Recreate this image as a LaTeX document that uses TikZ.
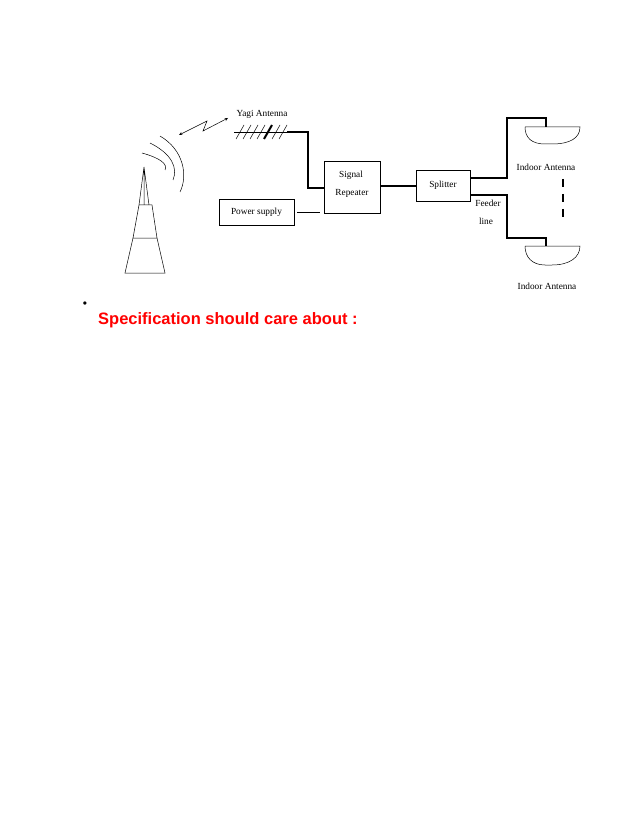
\documentclass[tikz,border=0pt]{standalone}
\usepackage{fontspec}
\setmainfont{Liberation Serif}
\newfontfamily\arialb{Liberation Sans}
\begin{document}
\begin{tikzpicture}[x=1pt,y=-1pt,
  box/.style={draw,line width=0.5pt,inner sep=0pt},
  lbl/.style={font=\fontsize{9.3}{10}\selectfont,inner sep=0pt},
  feed/.style={line width=1.8pt},
  thin/.style={line width=0.5pt}]
\useasboundingbox (0,0) rectangle (638,826);
% tower
\draw[thin] (144,167) -- (139,205) (144,167) -- (149,205) (144,167) -- (144,205);
\draw[thin] (139,205) -- (152,205) -- (157,238) -- (133,238) -- cycle;
\draw[thin] (133,238) -- (125,273) -- (165,273) -- (157,238);
% waves
\draw[thin] (160,136) .. controls (184,150) and (188,176) .. (180,192);
\draw[thin] (150,143) .. controls (172,154) and (178,168) .. (173,180);
\draw[thin] (142,153) .. controls (160,158) and (168,164) .. (165,170);
% lightning
\draw[thin,<->,>=stealth] (179,135) -- (207,121) -- (203,131) -- (228,118);
% yagi
\node[lbl] (yl) at (262,114) {Yagi Antenna};
\coordinate (y0) at (234,132);
\coordinate (y1) at (287,132);
\draw[thin] (y0) -- (y1);
\foreach \x in {236,243,250,257,272,279} \draw[thin] (\x,139) -- (\x+8,125);
\draw[line width=2pt] (264,139) -- (272,125);
% boxes
\node[box,minimum width=56pt,minimum height=52pt] (rep) at (352,187) {};
\node[lbl] at (351,175) {Signal};
\node[lbl] at (352,193) {Repeater};
\node[box,minimum width=75pt,minimum height=26pt,lbl,draw] (ps) at (256.5,212) {Power supply};
\node[box,minimum width=54pt,minimum height=31pt,lbl,draw] (sp) at (443,185.5) {Splitter};
\draw[feed] (y1) -- (308,132) -- (308,188) -- (rep.west |- 0,188);
\draw[thin] (297,212) -- (320,212);
\draw[feed] (rep.east |- 0,186) -- (sp.west |- 0,186);
% indoor antennas
\draw[feed] (sp.east |- 0,178) -- (507,178) -- (507,118) -- (546,118) -- (546,127);
\draw[feed] (sp.east |- 0,195) -- (507,195) -- (507,238) -- (546,238) -- (546,246);
\draw[thin] (525,127) -- (580,127) .. controls (580,138) and (570,144) .. (552,144) -- (545,144) .. controls (532,144) and (525,138) .. (525,127);
\draw[thin] (525,246) -- (580,246) .. controls (580,257) and (570,265) .. (552,265) -- (545,265) .. controls (532,265) and (525,257) .. (525,246);
\node[lbl] (a1) at (546,167) {Indoor Antenna};
\node[lbl] (a2) at (547,286) {Indoor Antenna};
\draw[line width=1.8pt,dash pattern=on 8pt off 7pt] (563,179) -- (563,219);
\node[lbl] (f1) at (488,203) {Feeder};
\node[lbl] (f2) at (486,221) {line};
% text
\node[font=\arialb\fontsize{12}{12}\selectfont,inner sep=0pt] (bul) at (85,305) {•};
\node[anchor=west,font=\arialb\bfseries\fontsize{16.5}{17}\selectfont,text=red,inner sep=0pt] (spec) at (98,320) {Specification should care about :};
\end{tikzpicture}
\end{document}
